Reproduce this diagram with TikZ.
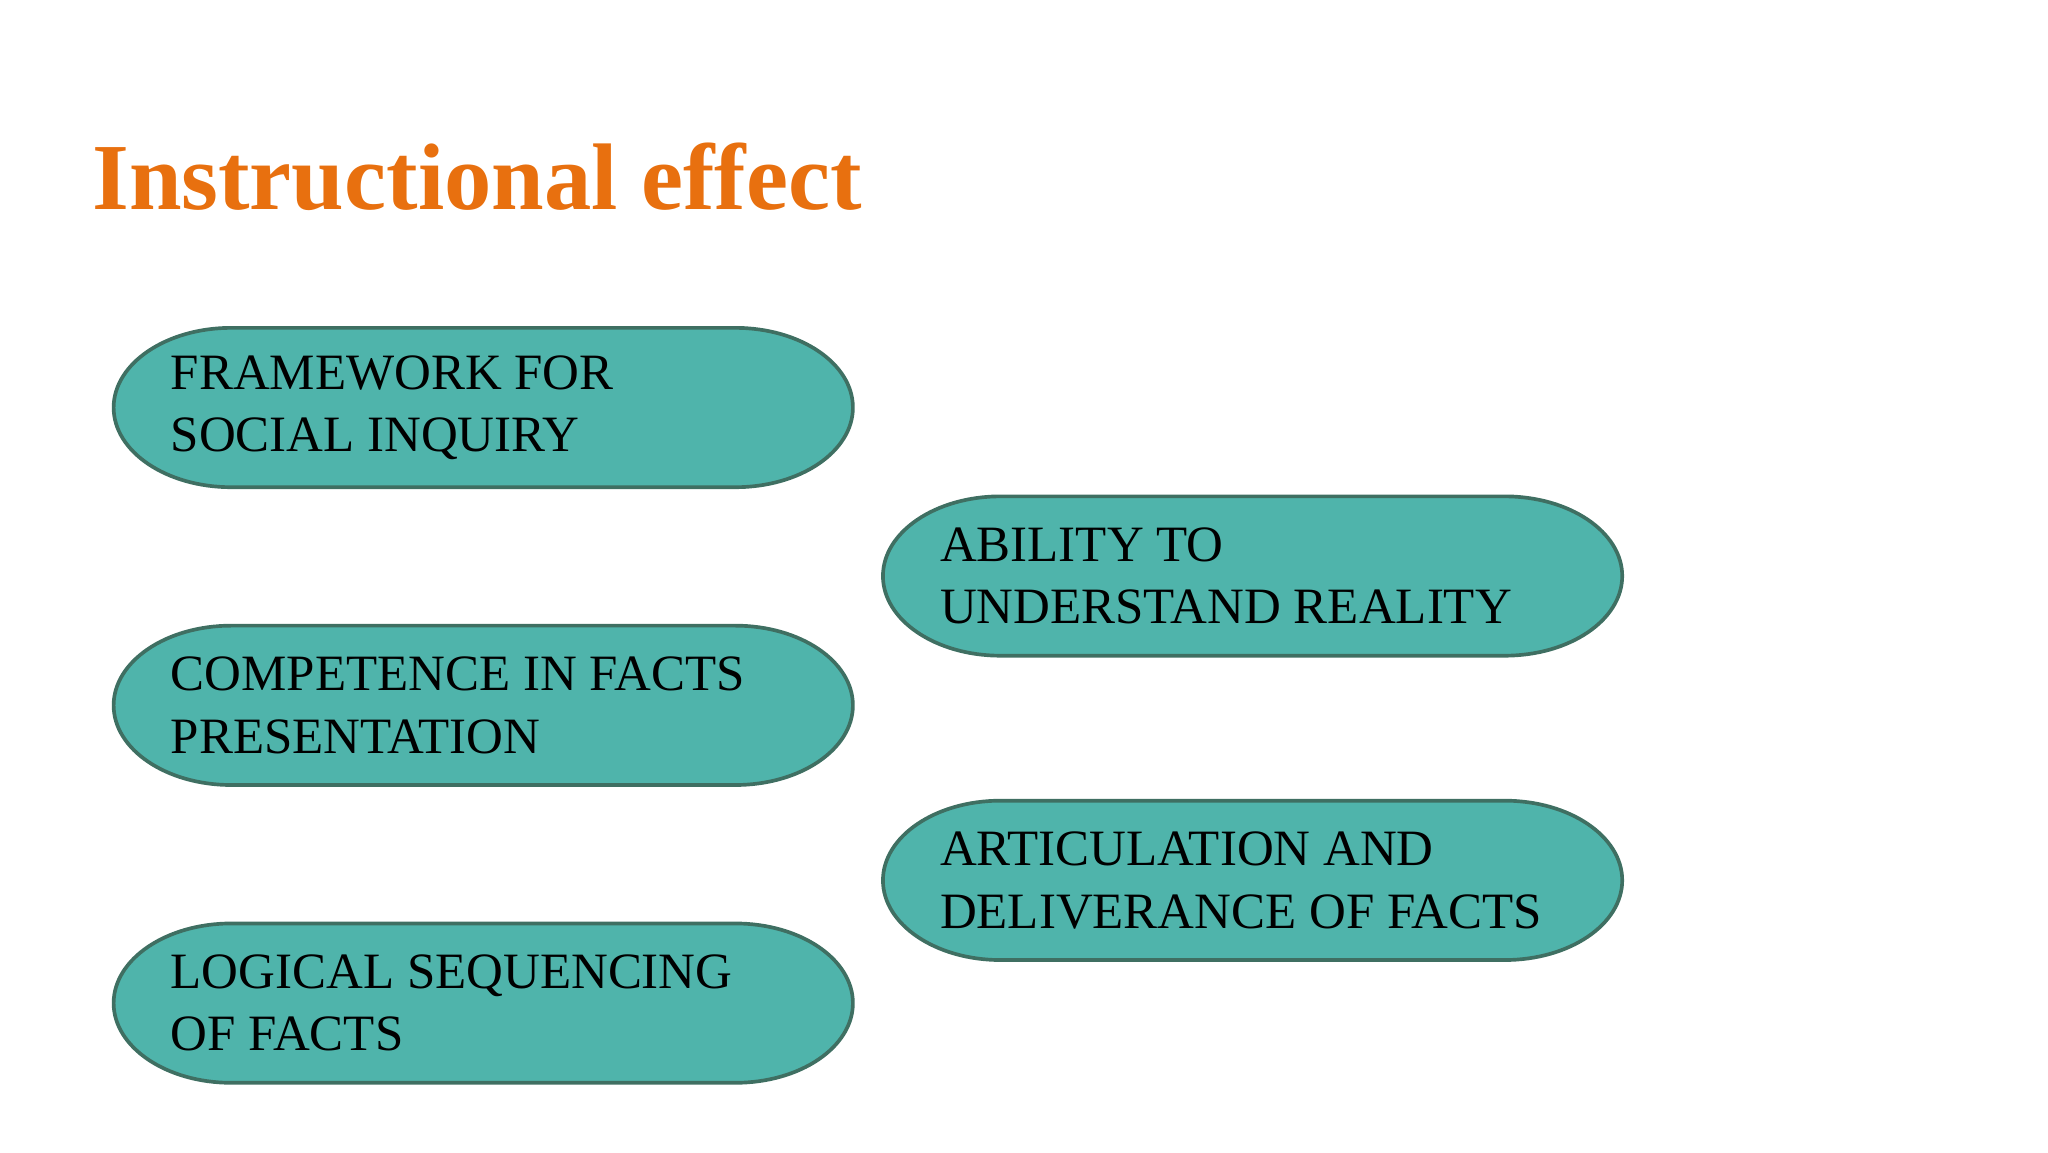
\documentclass[tikz,border=0pt]{standalone}
\usepackage{fontspec}
\setmainfont{Liberation Serif}
\definecolor{pillfill}{HTML}{4FB4AB}
\definecolor{pilledge}{HTML}{3F6F62}
\definecolor{titleor}{HTML}{E8700F}
\tikzset{
  pillshape/.style={fill=pillfill,draw=pilledge,line width=0.8pt},
  pilltext/.style={anchor=west,align=left,inner sep=0pt,font=\fontsize{11.1pt}{13.6pt}\selectfont}
}
\newcommand{\mypill}[4]{%
  % #1 name, #2 left x, #3 center y, #4 text
  \path[pillshape] (#2+0.9,#3+0.61) -- (#2+4.76,#3+0.61)
    arc[start angle=90,end angle=-90,x radius=0.9,y radius=0.61]
    -- (#2+0.9,#3-0.61)
    arc[start angle=270,end angle=90,x radius=0.9,y radius=0.61] -- cycle;
  \node[pilltext] (#1) at (#2+0.43,#3) {#4};
}
\begin{document}
\begin{tikzpicture}
\useasboundingbox (0,0) rectangle (15.68,-8.82);
\node[anchor=base west,inner sep=0pt,text=titleor,font=\fontsize{20.6pt}{24pt}\selectfont\bfseries] (title) at (0.70,-1.60) {Instructional effect};
\mypill{p1}{0.87}{-3.12}{FRAMEWORK FOR\\SOCIAL INQUIRY}
\mypill{p2}{0.87}{-5.40}{COMPETENCE IN FACTS\\PRESENTATION}
\mypill{p3}{0.87}{-7.68}{LOGICAL SEQUENCING\\OF FACTS}
\mypill{p4}{6.76}{-4.41}{ABILITY TO\\UNDERSTAND REALITY}
\mypill{p5}{6.76}{-6.74}{ARTICULATION AND\\DELIVERANCE OF FACTS}
\end{tikzpicture}
\end{document}
